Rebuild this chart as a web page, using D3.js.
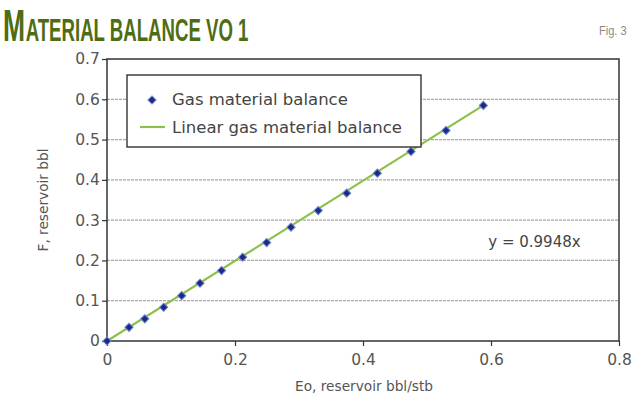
<!DOCTYPE html>
<html>
<head>
<meta charset="utf-8">
<script src="https://cdn.jsdelivr.net/npm/d3@7"></script>
<style>
  html, body { margin: 0; padding: 0; background: #fff; }
  svg { display: block; font-family: "DejaVu Sans", Verdana, sans-serif; }
</style>
</head>
<body>
<div id="chart"></div>
<script>
// values
const eo = [0, 0.0344, 0.059, 0.0886, 0.1167, 0.1453, 0.179, 0.212, 0.2495, 0.2875, 0.330, 0.3745, 0.4224, 0.475, 0.5297, 0.588];
const f  = [0, 0.034, 0.055, 0.0837, 0.1126, 0.1434, 0.1747, 0.208, 0.2443, 0.2826, 0.3238, 0.367, 0.4167, 0.4704, 0.5226, 0.5847];
const slope = 0.9948;
const xTicks = [0, 0.2, 0.4, 0.6, 0.8];
const yTicks = [0, 0.1, 0.2, 0.3, 0.4, 0.5, 0.6, 0.7];
const legendLabels = ["Gas material balance", "Linear gas material balance"];

const width = 640, height = 412;
const margin = { top: 59, right: 21, bottom: 71, left: 107 };
const innerW = width - margin.left - margin.right;
const innerH = height - margin.top - margin.bottom;

const svg = d3.select("#chart").append("svg")
  .attr("width", width)
  .attr("height", height);

// title: one text, squeezed sideways to the narrow headline look
const titleFont = "'Liberation Sans Narrow', 'Liberation Sans', sans-serif";
const title = svg.append("text")
  .attr("x", 0).attr("y", 0)
  .attr("fill", "#4f6c14")
  .attr("font-family", titleFont)
  .attr("font-weight", "bold");
title.append("tspan").attr("font-size", 44).text("M");
title.append("tspan").attr("font-size", 31).attr("dx", 1).text("ATERIAL BALANCE VO 1");
const tw = title.node().getComputedTextLength();
title.attr("transform", `translate(3,41) scale(${245 / tw},1)`);

svg.append("text")
  .attr("x", 0).attr("y", 0)
  .attr("fill", "#8a8a8a")
  .attr("font-size", 13)
  .attr("font-family", titleFont)
  .attr("transform", "translate(599,35) scale(0.85,1)")
  .text("Fig. 3");

const g = svg.append("g").attr("transform", `translate(${margin.left},${margin.top})`);

const x = d3.scaleLinear().domain([0, 0.8]).range([0, innerW]);
const y = d3.scaleLinear().domain([0, 0.7]).range([innerH, 0]);

// grid
g.append("g").selectAll("line")
  .data(yTicks.slice(1, -1))
  .join("line")
  .attr("x1", 0).attr("x2", innerW)
  .attr("y1", d => y(d)).attr("y2", d => y(d))
  .attr("stroke", "#a8a8a8")
  .attr("stroke-width", 1.2)
  .attr("stroke-dasharray", "3,1");

// plot frame
g.append("rect")
  .attr("width", innerW).attr("height", innerH)
  .attr("fill", "none")
  .attr("stroke", "#333")
  .attr("stroke-width", 1.5);

// axes
const fmt = d => d === 0 ? "0" : d3.format(".1f")(d);
const xAxis = g.append("g")
  .attr("transform", `translate(0,${innerH})`)
  .call(d3.axisBottom(x).tickValues(xTicks).tickSize(5).tickFormat(fmt));
const yAxis = g.append("g")
  .call(d3.axisLeft(y).tickValues(yTicks).tickSize(5).tickFormat(fmt));

[xAxis, yAxis].forEach(a => {
  a.select(".domain").remove();
  a.selectAll(".tick line").attr("stroke", "#333").attr("stroke-width", 1.2);
  a.selectAll(".tick text")
    .attr("fill", "#555")
    .attr("font-size", 15.5)
    .attr("font-family", "'DejaVu Sans', Verdana, sans-serif");
});
xAxis.selectAll(".tick text").attr("dy", "1.0em");
yAxis.selectAll(".tick text").attr("dx", "0.05em");

// axis titles
svg.append("text")
  .attr("x", margin.left + innerW / 2 + 1).attr("y", 391)
  .attr("text-anchor", "middle")
  .attr("fill", "#555").attr("font-size", 13.7)
  .text("Eo, reservoir bbl/stb");
svg.append("text")
  .attr("transform", `translate(48,${margin.top + innerH / 2}) rotate(-90)`)
  .attr("text-anchor", "middle")
  .attr("fill", "#555").attr("font-size", 13.7)
  .text("F, reservoir bbl");

// trend line
const xMax = d3.max(eo);
g.append("line")
  .attr("x1", x(0)).attr("y1", y(0))
  .attr("x2", x(xMax)).attr("y2", y(slope * xMax))
  .attr("stroke", "#8cc04a")
  .attr("stroke-width", 2.2);

// markers: square turned 45 degrees
const diamond = d3.symbol().type(d3.symbolSquare).size(34);
g.append("g").selectAll("path")
  .data(eo.map((d, i) => [d, f[i]]))
  .join("path")
  .attr("d", diamond)
  .attr("transform", d => `translate(${x(d[0])},${y(d[1])}) rotate(45)`)
  .attr("fill", "#1a2a8c")
  .attr("stroke", "#7384c8")
  .attr("stroke-width", 1);

// equation
g.append("text")
  .attr("x", x(0.74)).attr("y", y(0.233))
  .attr("text-anchor", "end")
  .attr("fill", "#444").attr("font-size", 15)
  .text("y = " + slope + "x");

// legend
const lg = svg.append("g").attr("transform", "translate(127,75)");
lg.append("rect")
  .attr("width", 294).attr("height", 72)
  .attr("fill", "#fff")
  .attr("stroke", "#222")
  .attr("stroke-width", 1.3);
lg.append("path")
  .attr("d", diamond)
  .attr("transform", "translate(25,25) rotate(45)")
  .attr("fill", "#1a2a8c")
  .attr("stroke", "#7384c8")
  .attr("stroke-width", 1);
lg.append("line")
  .attr("x1", 13).attr("x2", 38)
  .attr("y1", 52).attr("y2", 52)
  .attr("stroke", "#8cc04a").attr("stroke-width", 2.2);
lg.selectAll("text.lab")
  .data(legendLabels)
  .join("text")
  .attr("class", "lab")
  .attr("x", 45)
  .attr("y", (d, i) => 30 + i * 28)
  .attr("fill", "#444")
  .attr("font-size", 16.5)
  .attr("font-family", "'DejaVu Sans', Verdana, sans-serif")
  .text(d => d);
</script>
</body>
</html>
